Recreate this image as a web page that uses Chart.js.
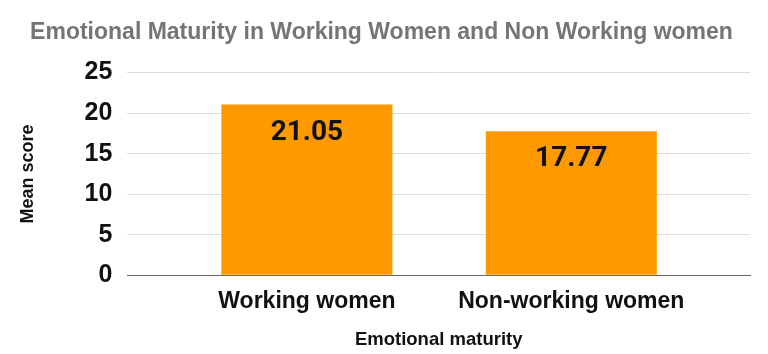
<!DOCTYPE html>
<html lang="en">
  <head>
    <meta charset="UTF-8" />
    <title>Emotional Maturity</title>
    <style>
      body {
        margin: 0;
        background-color: #ffffff;
      }
      .chart {
        width: 768px;
        height: 354px;
      }
    </style>
    <script src="https://cdn.jsdelivr.net/npm/chart.js"></script>
  </head>
  <body>
    <div class="chart">
      <canvas id="myChart"></canvas>
    </div>
    <script>
      const categories = ["Working women", "Non-working women"];
      const meanScores = [21.05, 17.77];
      const yTicks = [0, 5, 10, 15, 20, 25];

      // write the value inside the top of each bar
      const barLabels = {
        id: "barLabels",
        afterDatasetsDraw(chart) {
          const ctx = chart.ctx;
          const meta = chart.getDatasetMeta(0);
          ctx.save();
          ctx.font = "bold 28px Roboto";
          ctx.fillStyle = "#111111";
          ctx.textAlign = "center";
          ctx.textBaseline = "middle";
          meta.data.forEach((bar, i) => {
            ctx.fillText(meanScores[i].toFixed(2), bar.x, bar.y + 28);
          });
          ctx.restore();
        }
      };

      const config = {
        type: "bar",
        data: {
          labels: categories,
          datasets: [
            {
              label: "Mean score",
              data: meanScores,
              backgroundColor: "#ff9900",
              categoryPercentage: 1,
              barPercentage: 0.647
            }
          ]
        },
        options: {
          responsive: true,
          maintainAspectRatio: false,
          animation: false,
          layout: { padding: { left: 13, right: 18, top: 7, bottom: 1 } },
          plugins: {
            legend: { display: false },
            tooltip: { enabled: false },
            title: {
              display: true,
              text: "Emotional Maturity in Working Women and Non Working women",
              color: "#757575",
              font: { family: "Liberation Sans", size: 23, weight: "bold" },
              padding: { top: 12, bottom: 26 }
            }
          },
          scales: {
            x: {
              grid: { display: false },
              border: { color: "#666666" },
              // stretch the category range so the gridlines run past the bars
              afterBuildTicks(scale) {
                scale._startValue = -0.679;
                scale._valueRange = 2.355;
              },
              ticks: {
                color: "#111111",
                font: { family: "Liberation Sans", size: 23, weight: "bold" },
                padding: 5
              },
              title: {
                display: true,
                text: "Emotional maturity",
                color: "#111111",
                font: { family: "Liberation Sans", size: 18.5, weight: "bold" },
                padding: { top: 8, bottom: 2 }
              }
            },
            y: {
              min: 0,
              max: 25,
              afterBuildTicks(scale) {
                scale.ticks = yTicks.map((v) => ({ value: v }));
              },
              grid: { color: "#dddddd", drawTicks: false },
              border: { display: false },
              ticks: {
                color: "#111111",
                font: { family: "Liberation Sans", size: 25, weight: "bold" },
                padding: 15
              },
              title: {
                display: true,
                text: "Mean score",
                color: "#111111",
                font: { family: "Liberation Sans", size: 18, weight: "bold" },
                padding: { top: 4, bottom: 31 }
              }
            }
          }
        },
        plugins: [barLabels]
      };
      const myChart = new Chart(document.getElementById("myChart"), config);
    </script>
  </body>
</html>
